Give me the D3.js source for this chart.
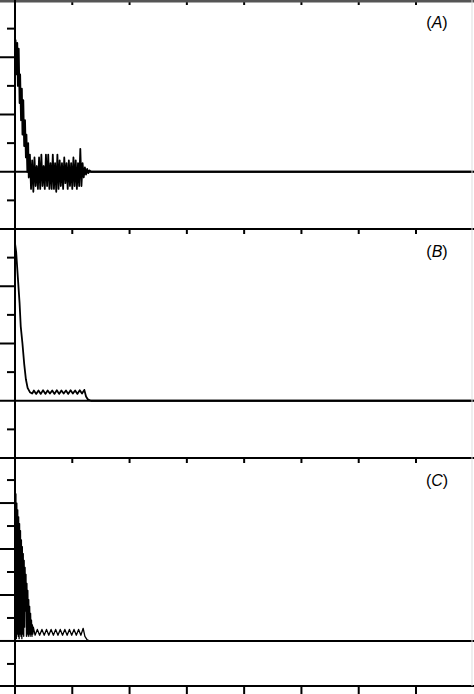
<!DOCTYPE html>
<html><head><meta charset="utf-8">
<script src="https://cdn.jsdelivr.net/npm/d3@7"></script>
<style>body{margin:0;background:#fff}svg{display:block}</style>
</head><body>
<script>
const xTicks=[0,1,2,3,4,5,6,7];
const labels=["(A)","(B)","(C)"];
const aT=[0,0.01,0.025,0.04,0.05,0.065,0.08,0.09,0.105,0.12,0.13,0.145,0.16,0.175,0.19,0.2,0.215,0.23,0.24,0.26,0.28,0.3,0.32,0.34,0.36,0.38,0.4,0.42,0.44,0.46,0.48,0.5,0.52,0.54,0.56,0.58,0.6,0.62,0.64,0.66,0.68,0.7,0.72,0.74,0.76,0.78,0.8,0.82,0.84,0.86,0.88,0.9,0.92,0.94,0.96,0.98,1.0,1.02,1.04,1.06,1.08,1.1,1.12,1.14,1.16,1.18,1.2,1.22,1.24,1.26,1.28,1.3,1.33,1.36,8];
const aV=[3.6,4.6,3.4,4.5,3.0,4.3,2.4,3.4,1.8,2.9,1.3,2.5,0.9,1.8,0.5,1.3,0.0,1.0,-0.2,0.6,-0.6,0.4,-0.7,0.5,-0.5,0.2,-0.6,0.5,-0.6,0.6,-0.5,0.2,-0.6,0.6,-0.5,0.6,-0.6,0.3,-0.6,0.6,-0.6,0.3,-0.7,0.6,-0.6,0.4,-0.5,0.3,-0.6,0.5,-0.4,0.3,-0.6,0.4,-0.5,0.3,-0.6,0.5,-0.5,0.4,-0.6,0.3,-0.5,0.8,-0.5,0.3,-0.2,0.15,-0.1,0.1,-0.05,0.05,0,0,0];
const bT=[0,0.02,0.05,0.08,0.1,0.13,0.16,0.19,0.22,0.26,0.3,0.33,0.37,0.41,0.45,0.49,0.53,0.57,0.61,0.65,0.69,0.73,0.77,0.81,0.85,0.89,0.93,0.97,1.01,1.05,1.09,1.13,1.17,1.21,1.24,1.27,1.3,1.33,8];
const bV=[5.5,5.2,4.3,3.4,2.6,2.0,1.3,0.75,0.45,0.3,0.25,0.36,0.24,0.36,0.24,0.37,0.24,0.36,0.25,0.36,0.24,0.37,0.24,0.36,0.25,0.36,0.24,0.37,0.25,0.36,0.24,0.37,0.25,0.38,0.15,0.05,0.02,0,0];
const cT=[0,0.008,0.016,0.024,0.032,0.04,0.048,0.056,0.064,0.072,0.08,0.088,0.096,0.104,0.112,0.12,0.128,0.136,0.144,0.152,0.16,0.168,0.176,0.184,0.192,0.2,0.208,0.216,0.224,0.232,0.24,0.248,0.256,0.264,0.272,0.28,0.288,0.296,0.304,0.312,0.32,0.35,0.39,0.43,0.47,0.51,0.55,0.59,0.63,0.67,0.71,0.75,0.79,0.83,0.87,0.91,0.95,0.99,1.03,1.07,1.11,1.15,1.19,1.22,1.26,1.3,8];
const cV=[6.6,0.2,6.4,0.1,6.0,0.3,5.7,0.2,5.4,0.1,5.1,0.3,4.8,0.2,4.4,0.1,4.1,0.3,3.8,0.2,3.5,0.6,3.2,1.3,2.9,0.2,2.5,0.3,2.2,0.2,1.8,0.3,1.5,0.2,1.2,0.3,0.9,0.2,0.7,0.3,0.6,0.25,0.5,0.25,0.5,0.25,0.5,0.25,0.5,0.25,0.5,0.25,0.5,0.25,0.5,0.25,0.5,0.25,0.5,0.25,0.5,0.25,0.55,0.2,0.05,0,0];
const W=474,H=694;
const svg=d3.select("body").append("svg").attr("width",W).attr("height",H);
const x=d3.scaleLinear().domain([0,7]).range([15,416]);
const panels=[
 {top:0,bot:229,dom:[-2,6],ticks:[-1,0,1,2,3,4,5],T:aT,V:aV,sw:1.8},
 {top:229,bot:458,dom:[-2,6],ticks:[-1,0,1,2,3,4,5],T:bT,V:bV,sw:1.8},
 {top:458,bot:686,dom:[-1.96,7.96],ticks:[-1,0,1,2,3,4,5,6,7],T:cT,V:cV,sw:1.3}
];
panels.forEach((p,i)=>{
 const y=d3.scaleLinear().domain(p.dom).range([p.bot,p.top]);
 const g=svg.append("g");
 g.selectAll(".yt").data(p.ticks).join("line")
  .attr("x1",d=>d%2===0?0:7).attr("x2",15).attr("y1",d=>y(d)).attr("y2",d=>y(d))
  .attr("stroke","#000").attr("stroke-width",2);
 g.selectAll(".xt").data(xTicks.slice(1)).join("line")
  .attr("x1",d=>x(d)).attr("x2",d=>x(d)).attr("y1",p.top).attr("y2",p.top+5)
  .attr("stroke","#000").attr("stroke-width",2);
 g.append("line").attr("x1",15).attr("x2",W).attr("y1",y(0)).attr("y2",y(0)).attr("stroke","#000").attr("stroke-width",2);
 const pts=p.T.map((t,k)=>[t,p.V[k]]);
 g.append("path").datum(pts).attr("d",d3.line().x(d=>x(d[0])).y(d=>y(d[1])))
  .attr("fill","none").attr("stroke","#000").attr("stroke-width",p.sw).attr("stroke-linejoin","round");
 g.append("text").attr("x",437).attr("y",p.top+28).attr("text-anchor","middle")
  .attr("font-family","Liberation Sans, Arial, sans-serif").attr("font-size",16).attr("font-style","normal")
  .html("("+"<tspan font-style='italic'>"+labels[i][1]+"</tspan>"+")");
});
svg.append("line").attr("x1",0).attr("x2",W).attr("y1",1).attr("y2",1).attr("stroke","#555").attr("stroke-width",3);
[229,458,686].forEach(v=>svg.append("line").attr("x1",0).attr("x2",W).attr("y1",v).attr("y2",v).attr("stroke","#000").attr("stroke-width",2));
svg.append("line").attr("x1",15).attr("x2",15).attr("y1",0).attr("y2",H).attr("stroke","#000").attr("stroke-width",2);
svg.append("line").attr("x1",472).attr("x2",472).attr("y1",0).attr("y2",686).attr("stroke","#ddd").attr("stroke-width",1);
svg.selectAll(".bt").data(xTicks).join("line").attr("x1",d=>x(d)).attr("x2",d=>x(d)).attr("y1",686).attr("y2",H)
 .attr("stroke","#000").attr("stroke-width",2);
</script>
</body></html>
